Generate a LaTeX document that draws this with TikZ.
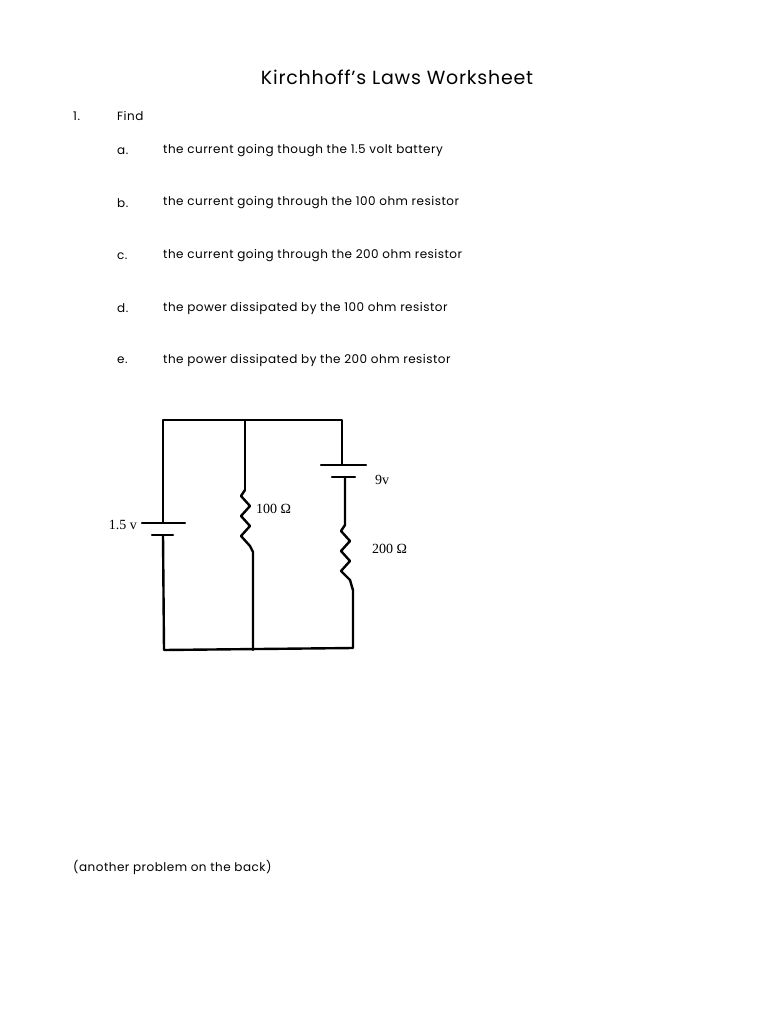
\documentclass[tikz,border=0pt]{standalone}
\usepackage{fontspec}
\setmainfont{Poppins}[LetterSpace=4]
\newfontfamily\cirf{Liberation Serif}
\begin{document}
\begin{tikzpicture}[x=1pt,y=-1pt,
  txt/.style={anchor=west,inner sep=0pt,font=\fontsize{12}{13}\selectfont},
  lab/.style={anchor=west,inner sep=0pt,font=\cirf\fontsize{14}{16}\selectfont},
  w/.style={line width=2.4pt,line cap=round,line join=round}]
\useasboundingbox (0,0) rectangle (768,1024);
\node (title) at (397,77) {\fontsize{19}{21}\selectfont Kirchhoff's Laws Worksheet};
\node[txt] (n1) at (73,116) {1.};
\node[txt] (find) at (117,116) {Find};
\node[txt] (la) at (117,151) {a.};
\node[txt] (ta) at (163,151) {the current going though the 1.5 volt battery};
\node[txt] (lb) at (117,203) {b.};
\node[txt] (tb) at (163,203) {the current going through the 100 ohm resistor};
\node[txt] (lc) at (117,256) {c.};
\node[txt] (tc) at (163,256) {the current going through the 200 ohm resistor};
\node[txt] (ld) at (117,308) {d.};
\node[txt] (td) at (163,308) {the power dissipated by the 100 ohm resistor};
\node[txt] (le) at (117,360) {e.};
\node[txt] (te) at (163,360) {the power dissipated by the 200 ohm resistor};
\node[txt] (back) at (73,867) {(another problem on the back)};
% circuit
\draw[w] (163,523) -- (163,420) -- (342,420) -- (342,465);
\draw[w] (245,420) -- (245,490);
\draw[w] (142,523) -- (185,523);
\draw[w] (152,535) -- (173,535);
\draw[w] (163,535) -- (164,650) -- (353,648) -- (353,590);
\draw[w] (245,490) -- (241,496) -- (250,506) -- (241,516) -- (250,526) -- (241,536) -- (250,546) -- (253,552) -- (253,560) -- (253,650);
\draw[w] (321,465) -- (366,465);
\draw[w] (332,477) -- (355,477);
\draw[w] (345,477) -- (345,525) -- (341,531) -- (350,541) -- (341,551) -- (350,561) -- (341,571) -- (350,580) -- (352,587) -- (353,590);
\node[lab,anchor=east] (v15) at (137,525) {1.5 v};
\node[lab] (r100) at (256,509) {100 Ω};
\node[lab] (v9) at (375,480) {9v};
\node[lab] (r200) at (372,549) {200 Ω};
\end{tikzpicture}
\end{document}
